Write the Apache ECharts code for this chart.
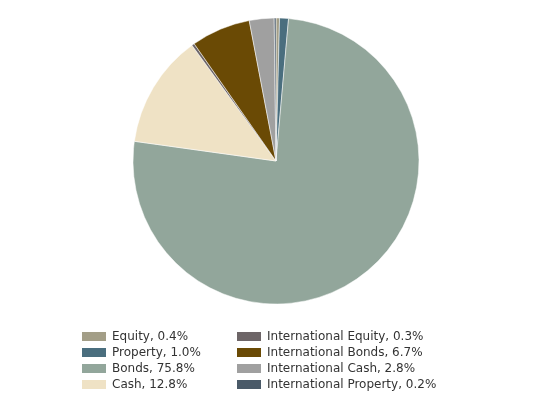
<!DOCTYPE html>
<html>
<head>
<meta charset="utf-8">
<script src="https://cdn.jsdelivr.net/npm/echarts@6/dist/echarts.min.js"></script>
<style>
  html, body { margin: 0; padding: 0; background: #fff; }
  #chart { width: 555px; height: 415px; }
</style>
</head>
<body>
<div id="chart"></div>
<script>
  const names = ['Equity', 'Property', 'Bonds', 'Cash', 'International Equity', 'International Bonds', 'International Cash', 'International Property']
  const values = [0.4, 1.0, 75.8, 12.8, 0.3, 6.7, 2.8, 0.2]
  const colors = ['#a39e87', '#4a6e7e', '#92a69b', '#efe2c5', '#6d6567', '#6a4a05', '#a0a0a0', '#4a5a68']

  const pieData = names.map((n, i) => ({ name: n, value: values[i] }))
  const labelOf = n => n + ', ' + values[names.indexOf(n)].toFixed(1) + '%'

  const legendBase = {
    orient: 'vertical',
    top: 325,
    itemWidth: 26,
    itemHeight: 11,
    itemGap: 3,
    icon: 'rect',
    selectedMode: false,
    formatter: labelOf,
    textStyle: { fontFamily: 'DejaVu Sans', fontSize: 12, color: '#333', lineHeight: 13 },
  }

  const chart = echarts.init(document.getElementById('chart'))
  chart.setOption({
    animation: false,
    color: colors,
    legend: [
      Object.assign({}, legendBase, { left: 75, data: names.slice(0, 4) }),
      Object.assign({}, legendBase, { left: 230, data: names.slice(4) }),
    ],
    series: [{
      type: 'pie',
      center: [276, 161],
      radius: 143,
      startAngle: 90,
      clockwise: true,
      label: { show: false },
      labelLine: { show: false },
      itemStyle: { borderColor: '#fff', borderWidth: 0.5 },
      data: pieData,
    }],
  })
</script>
</body>
</html>
